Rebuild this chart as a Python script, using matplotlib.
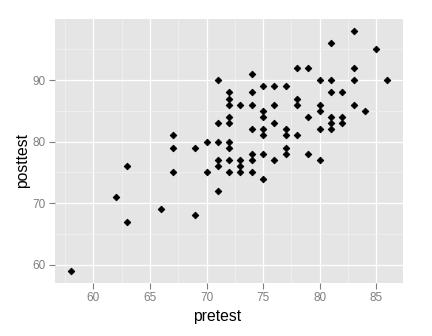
import numpy as np
import matplotlib
matplotlib.use('Agg')
import matplotlib.pyplot as plt
from matplotlib.ticker import FixedLocator

#####################################################################
# Data
#####################################################################
pretest = [58,
           62,
           63, 63,
           66,
           67, 67, 67,
           69, 69,
           70, 70,
           71, 71, 71, 71, 71, 71,
           72, 72, 72, 72, 72, 72, 72, 72, 72,
           73, 73, 73, 73,
           74, 74, 74, 74, 74, 74, 74,
           75, 75, 75, 75, 75, 75, 75,
           76, 76, 76, 76,
           77, 77, 77, 77, 77,
           78, 78, 78, 78,
           79, 79, 79,
           80, 80, 80, 80, 80,
           81, 81, 81, 81, 81, 81,
           82, 82, 82,
           83, 83, 83, 83,
           84,
           85,
           86]
posttest = [59,
            71,
            76, 67,
            69,
            81, 79, 75,
            79, 68,
            80, 75,
            90, 83, 80, 77, 76, 72,
            88, 87, 86, 84, 83, 80, 79, 77, 75,
            86, 77, 76, 75,
            91, 88, 86, 82, 78, 77, 75,
            89, 85, 84, 82, 81, 78, 74,
            89, 86, 83, 77,
            89, 82, 81, 79, 78,
            92, 87, 86, 81,
            92, 84, 78,
            90, 86, 85, 82, 77,
            96, 90, 88, 84, 83, 82,
            88, 84, 83,
            98, 92, 90, 86,
            85,
            95,
            90]

x_breaks = [60, 65, 70, 75, 80, 85]
y_breaks = [60, 70, 80, 90]
x_label = 'pretest'
y_label = 'posttest'

#####################################################################
# Plot (ggplot2 theme_grey look)
#####################################################################
def expand_range(vals, frac=0.05):
    lo, hi = min(vals), max(vals)
    pad = (hi - lo) * frac
    return lo - pad, hi + pad

plt.rcParams['font.family'] = ['Liberation Sans', 'DejaVu Sans']

fig = plt.figure(figsize=(4.32, 3.36), dpi=100)
ax = fig.add_axes([55/432, 1 - 282.7/336, (403.3 - 55)/432, (282.7 - 19)/336])
ax.set_facecolor('#E5E5E5')

xlim = expand_range(pretest)
ylim = expand_range(posttest)
ax.set_xlim(xlim)
ax.set_ylim(ylim)

# grid lines: minor halfway between majors
ax.xaxis.set_major_locator(FixedLocator(x_breaks))
ax.yaxis.set_major_locator(FixedLocator(y_breaks))
x_minor = np.arange(x_breaks[0] - 2.5, xlim[1], 5)
y_minor = np.arange(y_breaks[0] - 5, ylim[1], 10)
ax.xaxis.set_minor_locator(FixedLocator(x_minor))
ax.yaxis.set_minor_locator(FixedLocator(y_minor))
ax.grid(which='minor', color='#F2F2F2', linewidth=0.5)
ax.grid(which='major', color='white', linewidth=0.9)
ax.set_axisbelow(True)

for s in ax.spines.values():
    s.set_visible(False)

ax.tick_params(which='major', length=4, width=0.8, color='#7F7F7F',
               labelcolor='#7F7F7F', labelsize=8.5, pad=3)
ax.tick_params(which='minor', length=0)

ax.plot(pretest, posttest, linestyle='none', marker='D',
        markersize=3.4, color='black', markeredgewidth=0.6)

# axis titles, placed where the reference has them
fig.text(217/432, 1 - 316/336, x_label, ha='center', va='center', fontsize=11.3)
fig.text(23/432, 1 - 160.5/336, y_label, ha='center', va='center',
         rotation=90, fontsize=11.3)

fig.savefig('out.png', dpi=100, facecolor='white')
